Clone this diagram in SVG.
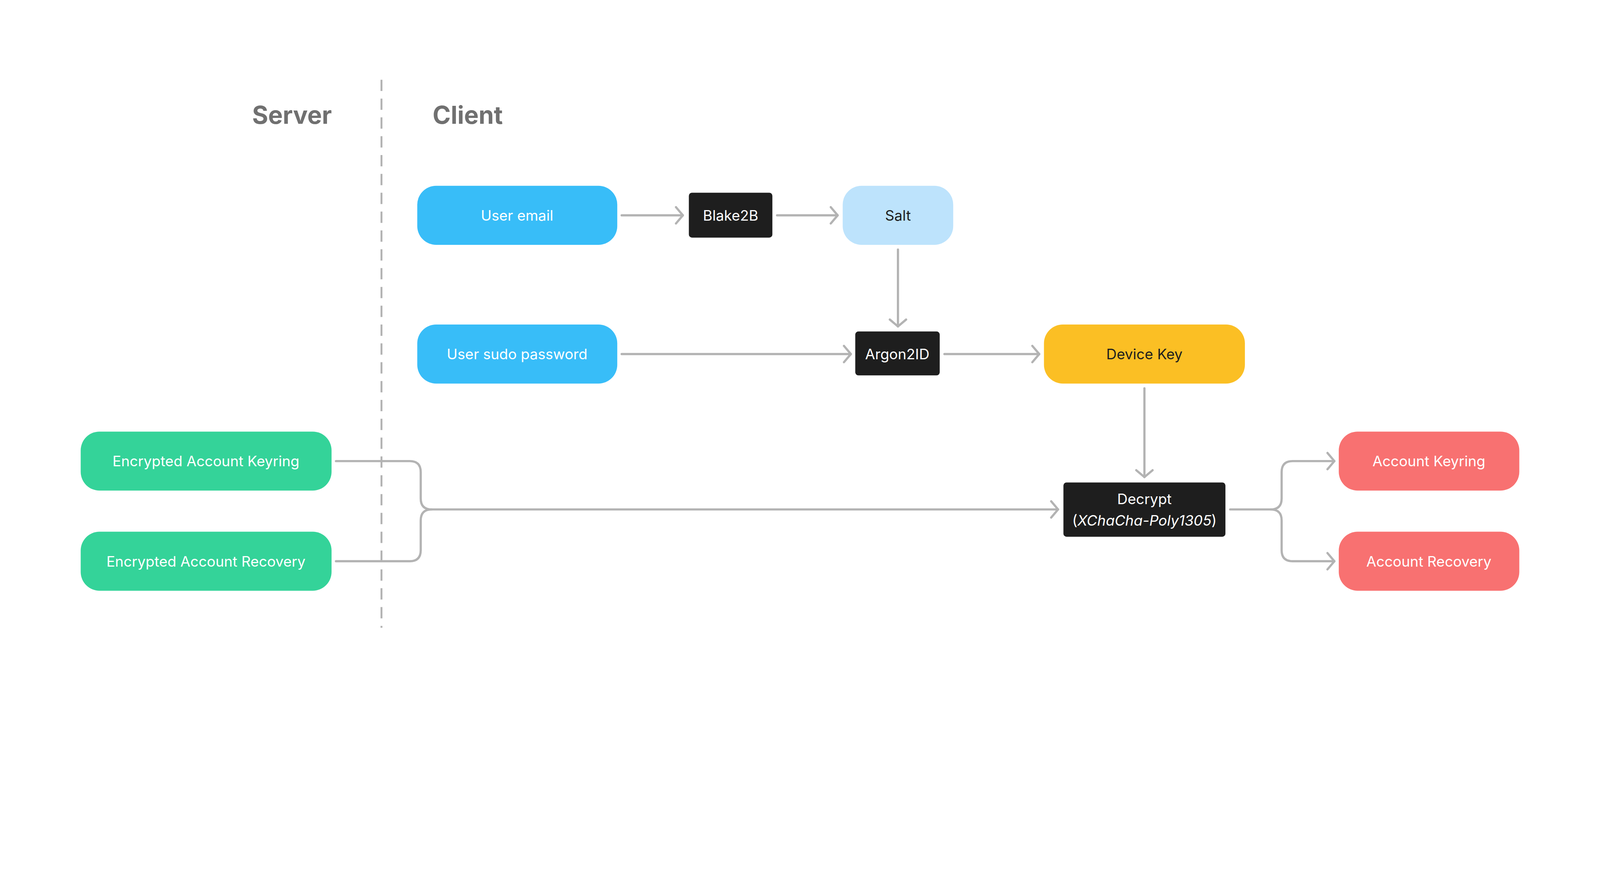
<svg xmlns="http://www.w3.org/2000/svg" width="5096" height="2256" viewBox="0 0 5096 2256" preserveAspectRatio="xMidYMin meet" style="width:100%;height:100%">
<style>
.t{font-family:Inter,"Liberation Sans",sans-serif;font-size:46px;text-anchor:middle;dominant-baseline:central}
.w{fill:#fff}.d{fill:#1e1e1e}
.h{font-family:Inter,"Liberation Sans",sans-serif;font-size:78px;font-weight:bold;fill:#707070}
.c{fill:none;stroke:#b3b3b3;stroke-width:7;stroke-linecap:round}
</style>
<defs>
<marker id="a" markerUnits="userSpaceOnUse" markerWidth="70" markerHeight="70" viewBox="-35 -35 70 70" refX="0" refY="0" orient="auto">
<path d="M-22,-26 L0,0 L-22,26" fill="none" stroke="#b3b3b3" stroke-width="7" stroke-linecap="round" stroke-linejoin="round"/>
</marker>
</defs>
<rect width="5096" height="2256" fill="#fff"/>
<line x1="1215" y1="254" x2="1215" y2="2000" stroke="#b3b3b3" stroke-width="6" stroke-dasharray="36,24"/>
<text class="h" x="930" y="395" text-anchor="middle">Server</text>
<text class="h" x="1378" y="395">Client</text>
<g id="connectors">
<path class="c" marker-end="url(#a)" d="M1980 686 H2175"/>
<path class="c" marker-end="url(#a)" d="M2475 686 H2668"/>
<path class="c" marker-end="url(#a)" d="M2860 795 V1040"/>
<path class="c" marker-end="url(#a)" d="M1980 1128 H2710"/>
<path class="c" marker-end="url(#a)" d="M3008 1128 H3310"/>
<path class="c" marker-end="url(#a)" d="M3645 1237 V1520"/>
<path class="c" marker-end="url(#a)" d="M1070 1469 H1305 Q1340 1469 1340 1504 V1588 Q1340 1623 1375 1623 H3370"/>
<path class="c" d="M1070 1788 H1305 Q1340 1788 1340 1753 V1658 Q1340 1623 1375 1623"/>
<path class="c" marker-end="url(#a)" d="M3918 1623 H4047 Q4082 1623 4082 1588 V1504 Q4082 1469 4117 1469 H4250"/>
<path class="c" marker-end="url(#a)" d="M4047 1623 Q4082 1623 4082 1658 V1753 Q4082 1788 4117 1788 H4250"/>
</g>
<g id="user-email"><rect x="1329" y="592" width="637" height="188" rx="60" fill="#38bdf8"/><text class="t w" x="1647" y="686">User email</text></g>
<g id="blake2b"><rect x="2194" y="614" width="266" height="143" rx="10" fill="#1e1e1e"/><text class="t w" x="2327" y="686">Blake2B</text></g>
<g id="salt"><rect x="2684" y="592" width="352" height="188" rx="60" fill="#bde3fc"/><text class="t d" x="2860" y="686">Salt</text></g>
<g id="sudo"><rect x="1329" y="1034" width="637" height="188" rx="60" fill="#38bdf8"/><text class="t w" x="1647" y="1128">User sudo password</text></g>
<g id="argon2id"><rect x="2724" y="1056" width="269" height="140" rx="10" fill="#1e1e1e"/><text class="t w" x="2858" y="1128">Argon2ID</text></g>
<g id="device-key"><rect x="3325" y="1034" width="640" height="188" rx="60" fill="#fbbf24"/><text class="t d" x="3645" y="1128">Device Key</text></g>
<g id="enc-keyring"><rect x="257" y="1375" width="799" height="188" rx="60" fill="#34d399"/><text class="t w" x="656" y="1469">Encrypted Account Keyring</text></g>
<g id="enc-recovery"><rect x="257" y="1694" width="799" height="188" rx="60" fill="#34d399"/><text class="t w" x="656" y="1788">Encrypted Account Recovery</text></g>
<g id="decrypt"><rect x="3387" y="1537" width="516" height="173" rx="10" fill="#1e1e1e"/><text class="t w" x="3645" y="1589">Decrypt</text><text class="t w" x="3645" y="1657">(<tspan font-style="italic">XChaCha-Poly1305</tspan>)</text></g>
<g id="keyring"><rect x="4264" y="1375" width="575" height="188" rx="60" fill="#f87171"/><text class="t w" x="4551" y="1469">Account Keyring</text></g>
<g id="recovery"><rect x="4264" y="1694" width="575" height="188" rx="60" fill="#f87171"/><text class="t w" x="4551" y="1788">Account Recovery</text></g>
</svg>
